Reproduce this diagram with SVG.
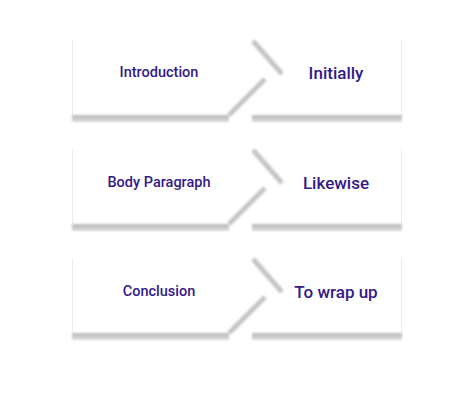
<svg xmlns="http://www.w3.org/2000/svg" width="474" height="414" viewBox="0 0 474 414">
  <defs>
    <filter id="blur" x="-20%" y="-50%" width="140%" height="200%">
      <feGaussianBlur stdDeviation="1.1"/>
    </filter>
    <linearGradient id="bottomShade" x1="0" y1="0" x2="0" y2="1">
      <stop offset="0" stop-color="#b8b8b8"/>
      <stop offset="1" stop-color="#dcdcdc"/>
    </linearGradient>
    <g id="card">
      <polygon class="face" points="72,0 251,0 281,35 266,38 228,75 72,75"/>
      <polygon class="face" points="253,0 402,0 402,75 252,75 283,36"/>
      <line class="edge" x1="72.5" y1="0" x2="72.5" y2="75"/>
      <line class="edge" x1="401.5" y1="0" x2="401.5" y2="75"/>
      <g filter="url(#blur)">
        <line class="band" x1="253" y1="1" x2="282" y2="34"/>
        <line class="band" x1="265" y1="39" x2="229" y2="75"/>
        <rect x="72" y="75" width="157" height="7" fill="url(#bottomShade)"/>
        <rect x="252" y="75" width="150" height="7" fill="url(#bottomShade)"/>
      </g>
    </g>
  </defs>
  <style>
    .face { fill: #ffffff; }
    .edge { stroke: #ececec; stroke-width: 1; }
    .band { stroke: #c6c6c6; stroke-width: 5; stroke-linecap: butt; }
    .lbl { font-family: Roboto, "Liberation Sans", sans-serif; font-weight: 500; fill: #341a88; text-anchor: middle; }
    .left { font-size: 14.5px; }
    .right { font-size: 17px; }
  </style>
  <rect width="474" height="414" fill="#ffffff"/>
  <g id="connectors"></g>
  <g id="row1">
    <use href="#card" x="0" y="40"/>
    <text class="lbl left" x="159" y="77">Introduction</text>
    <text class="lbl right" x="336" y="79">Initially</text>
  </g>
  <g id="row2">
    <use href="#card" x="0" y="149"/>
    <text class="lbl left" x="159" y="187">Body Paragraph</text>
    <text class="lbl right" x="336" y="189">Likewise</text>
  </g>
  <g id="row3">
    <use href="#card" x="0" y="258"/>
    <text class="lbl left" x="159" y="296">Conclusion</text>
    <text class="lbl right" x="336" y="298">To wrap up</text>
  </g>
</svg>
